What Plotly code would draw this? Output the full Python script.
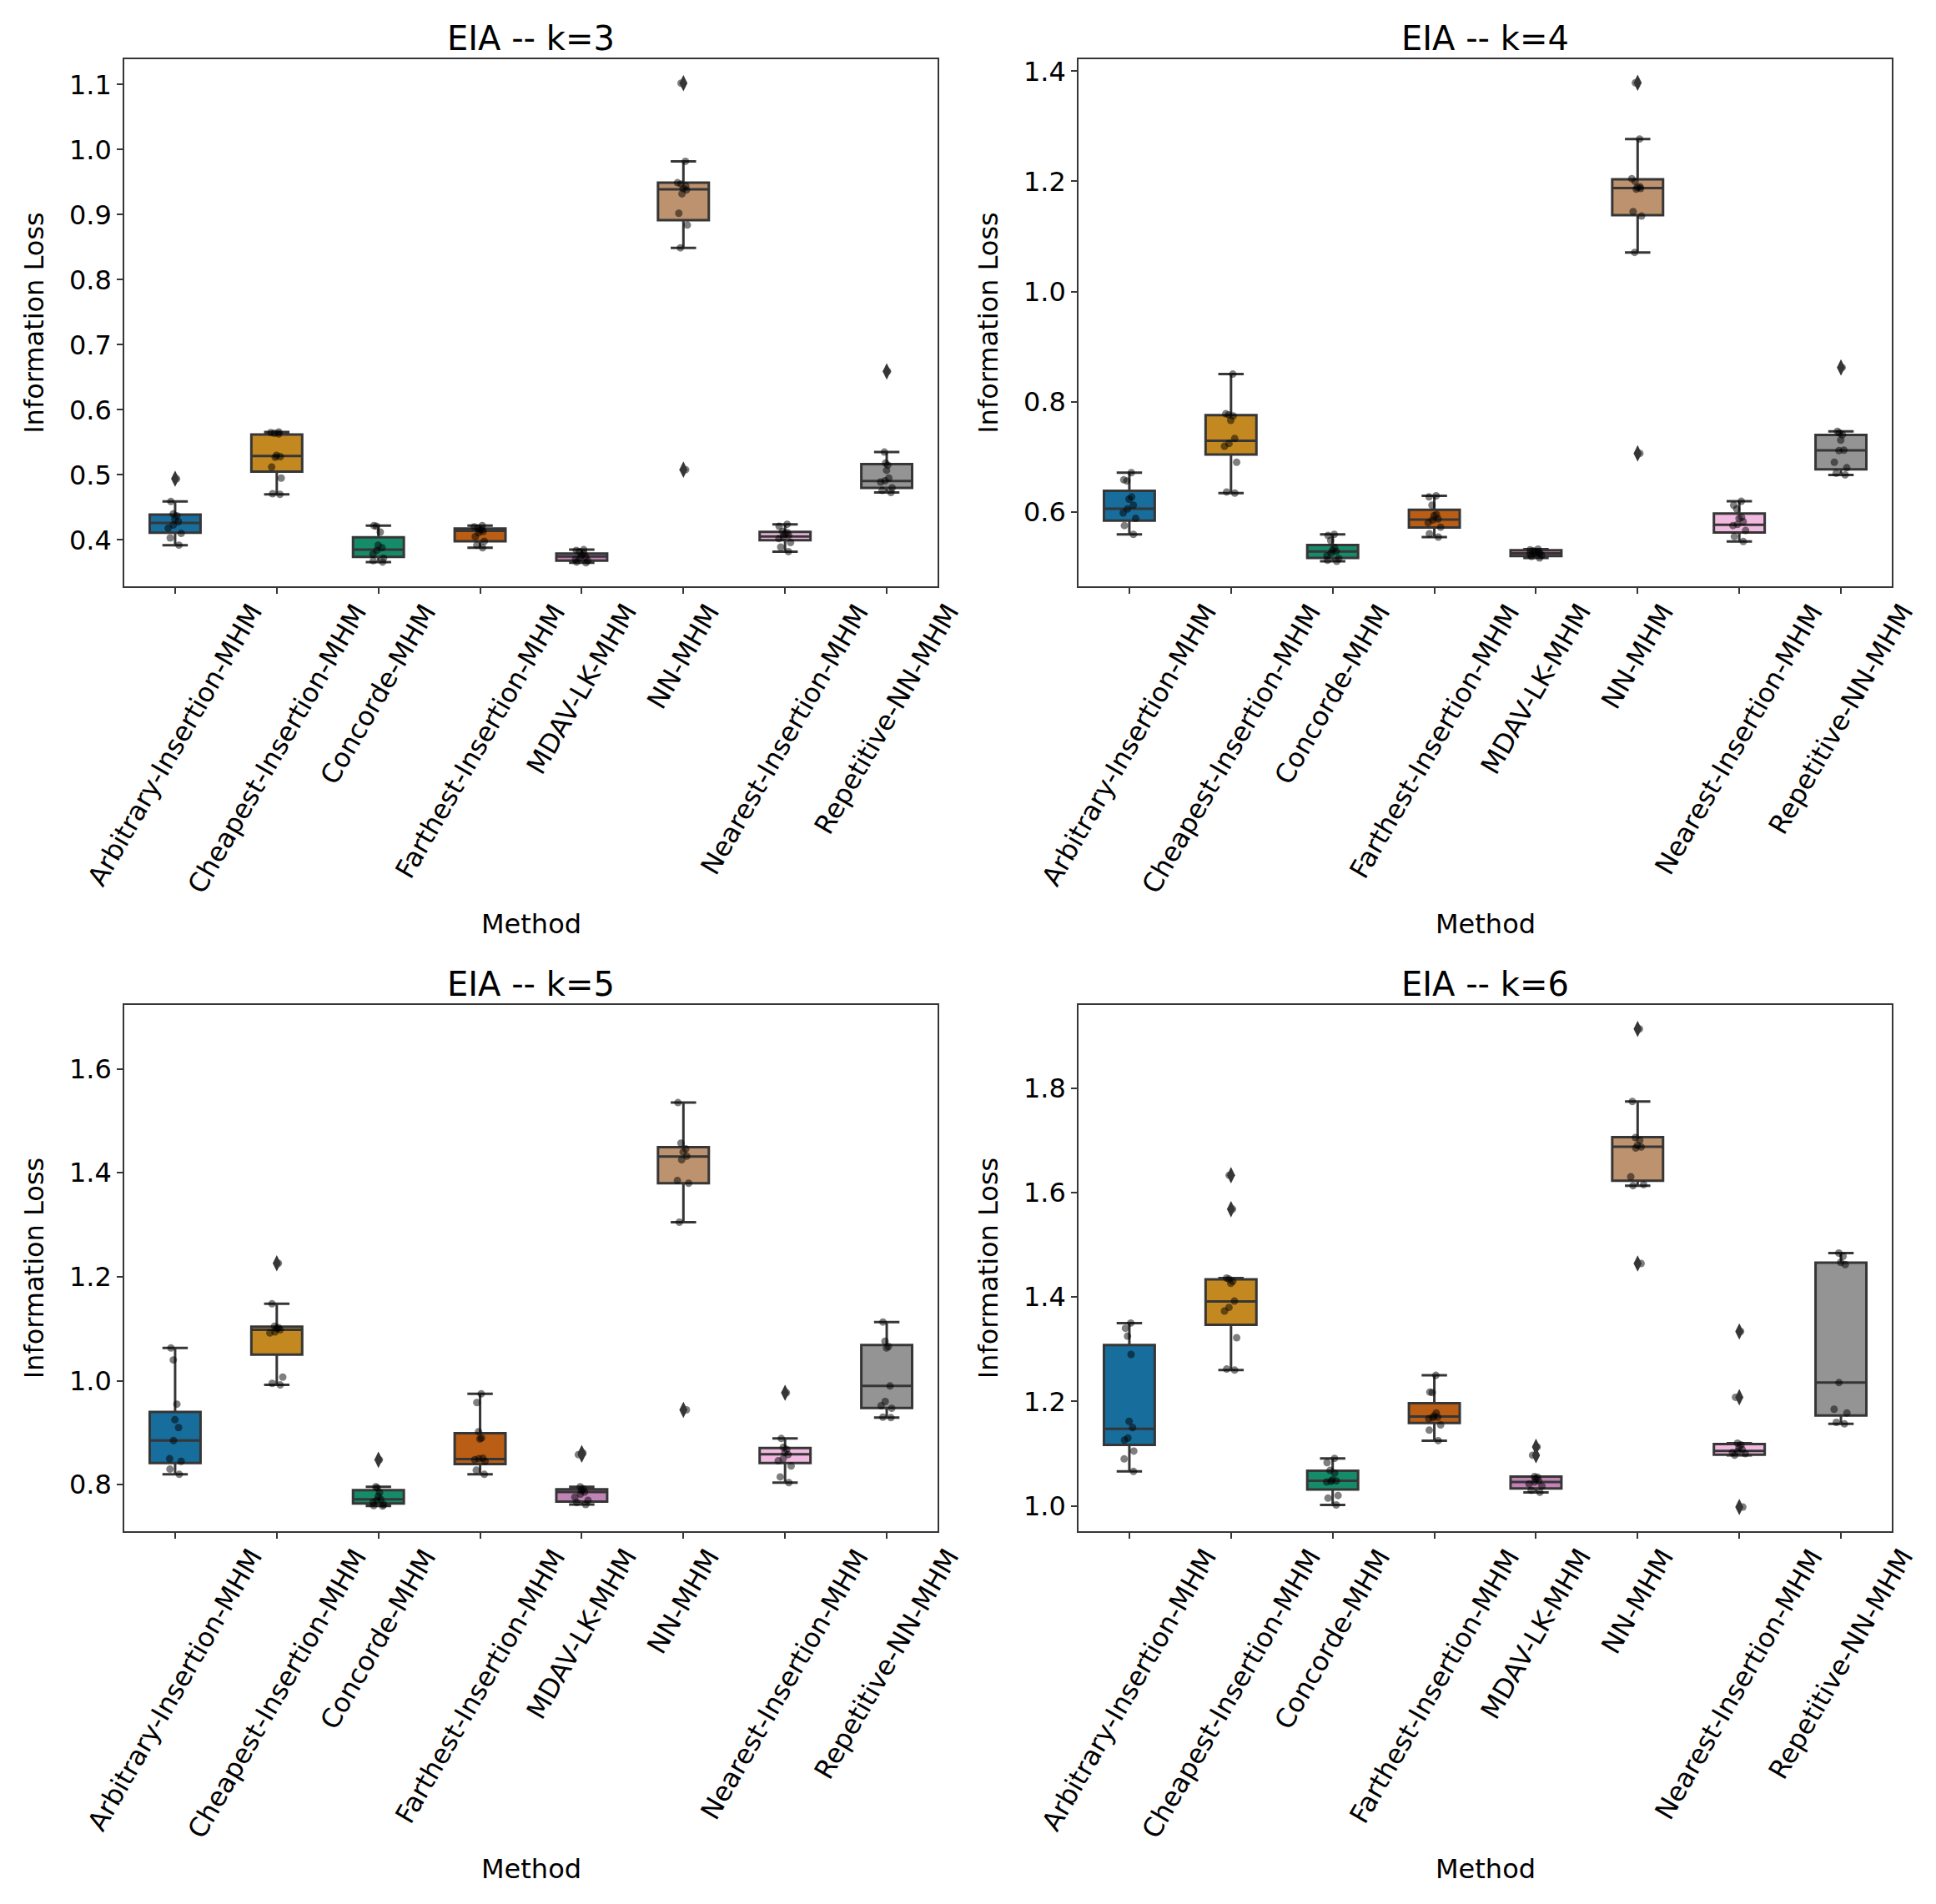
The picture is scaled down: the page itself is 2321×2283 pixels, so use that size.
import plotly.graph_objects as go

METHODS = ["Arbitrary-Insertion-MHM", "Cheapest-Insertion-MHM", "Concorde-MHM",
           "Farthest-Insertion-MHM", "MDAV-LK-MHM", "NN-MHM",
           "Nearest-Insertion-MHM", "Repetitive-NN-MHM"]
COLORS = ["#176d9c", "#c38820", "#168b6a", "#ba5e15",
          "#c182b5", "#bd926e", "#f1b8e0", "#949494"]

# k=3
K3_Q1 = [0.411, 0.505, 0.374, 0.398, 0.368, 0.8914, 0.3994, 0.480]
K3_MED = [0.426, 0.529, 0.385, 0.414, 0.3747, 0.939, 0.4053, 0.4905]
K3_Q3 = [0.439, 0.562, 0.404, 0.4175, 0.379, 0.949, 0.4123, 0.5164]
K3_POINTS = [
    [0.494, 0.459, 0.440, 0.437, 0.432, 0.428, 0.423, 0.418, 0.410, 0.403, 0.392],
    [0.566, 0.565, 0.564, 0.563, 0.530, 0.528, 0.527, 0.512, 0.495, 0.471, 0.470],
    [0.422, 0.421, 0.412, 0.392, 0.388, 0.384, 0.378, 0.372, 0.368, 0.366],
    [0.422, 0.420, 0.418, 0.416, 0.415, 0.413, 0.411, 0.405, 0.398, 0.392, 0.388],
    [0.385, 0.384, 0.382, 0.379, 0.376, 0.374, 0.372, 0.370, 0.368, 0.366, 0.365],
    [1.102, 0.982, 0.949, 0.947, 0.944, 0.940, 0.938, 0.932, 0.902, 0.884, 0.849, 0.508],
    [0.424, 0.421, 0.413, 0.411, 0.409, 0.407, 0.405, 0.402, 0.396, 0.389, 0.382],
    [0.659, 0.535, 0.518, 0.515, 0.507, 0.495, 0.491, 0.489, 0.480, 0.476, 0.473],
]

# k=4
K4_Q1 = [0.584, 0.704, 0.516, 0.5716, 0.5195, 1.1385, 0.5625, 0.677]
K4_MED = [0.6056, 0.729, 0.5278, 0.586, 0.5244, 1.1878, 0.5764, 0.7117]
K4_Q3 = [0.638, 0.7756, 0.5396, 0.6035, 0.530, 1.2037, 0.597, 0.7395]
K4_POINTS = [
    [0.671, 0.658, 0.656, 0.627, 0.623, 0.612, 0.605, 0.598, 0.588, 0.575, 0.559],
    [0.850, 0.778, 0.776, 0.774, 0.766, 0.733, 0.724, 0.719, 0.690, 0.636, 0.634],
    [0.559, 0.557, 0.548, 0.535, 0.530, 0.528, 0.525, 0.520, 0.515, 0.512, 0.510],
    [0.629, 0.627, 0.612, 0.595, 0.593, 0.587, 0.585, 0.580, 0.572, 0.560, 0.554],
    [0.532, 0.531, 0.529, 0.527, 0.526, 0.525, 0.524, 0.523, 0.521, 0.519, 0.516],
    [1.379, 1.277, 1.205, 1.200, 1.190, 1.189, 1.187, 1.186, 1.145, 1.137, 1.071, 0.706],
    [0.619, 0.612, 0.605, 0.590, 0.588, 0.582, 0.577, 0.575, 0.566, 0.555, 0.546],
    [0.862, 0.746, 0.743, 0.740, 0.730, 0.712, 0.711, 0.690, 0.680, 0.670, 0.667],
]

# k=5
K5_Q1 = [0.8418, 1.0503, 0.764, 0.8396, 0.7677, 1.3798, 0.8418, 0.9475]
K5_MED = [0.8851, 1.098, 0.7721, 0.8492, 0.786, 1.4312, 0.8587, 0.990]
K5_Q3 = [0.9402, 1.1039, 0.7897, 0.8991, 0.7912, 1.4495, 0.8705, 1.0686]
K5_POINTS = [
    [1.063, 1.040, 0.955, 0.925, 0.910, 0.885, 0.850, 0.845, 0.830, 0.820],
    [1.226, 1.148, 1.105, 1.102, 1.100, 1.098, 1.094, 1.092, 1.007, 0.995, 0.992],
    [0.848, 0.796, 0.794, 0.785, 0.778, 0.772, 0.770, 0.766, 0.762, 0.760, 0.759],
    [0.975, 0.958, 0.902, 0.890, 0.888, 0.851, 0.850, 0.848, 0.845, 0.828, 0.820],
    [0.861, 0.858, 0.796, 0.792, 0.789, 0.786, 0.782, 0.776, 0.770, 0.766, 0.762],
    [1.776, 1.535, 1.457, 1.446, 1.440, 1.432, 1.425, 1.385, 1.380, 1.305, 0.944],
    [0.977, 0.889, 0.872, 0.868, 0.862, 0.858, 0.850, 0.846, 0.836, 0.815, 0.804],
    [1.113, 1.076, 1.066, 1.063, 0.990, 0.960, 0.952, 0.947, 0.930, 0.929],
]

# k=6
K6_Q1 = [1.117, 1.3466, 1.0314, 1.1587, 1.0336, 1.6223, 1.098, 1.1733]
K6_MED = [1.1477, 1.3912, 1.0483, 1.1711, 1.046, 1.6874, 1.1053, 1.2362]
K6_Q3 = [1.3079, 1.4336, 1.0673, 1.1967, 1.0563, 1.7057, 1.1185, 1.4658]
K6_POINTS = [
    [1.350, 1.340, 1.325, 1.290, 1.162, 1.150, 1.130, 1.126, 1.105, 1.090, 1.066],
    [1.633, 1.568, 1.436, 1.434, 1.430, 1.426, 1.392, 1.380, 1.373, 1.322, 1.262, 1.260],
    [1.091, 1.083, 1.068, 1.063, 1.050, 1.048, 1.047, 1.046, 1.020, 1.015, 1.002],
    [1.250, 1.218, 1.217, 1.178, 1.172, 1.170, 1.169, 1.167, 1.155, 1.145, 1.125],
    [1.113, 1.097, 1.056, 1.055, 1.052, 1.048, 1.046, 1.042, 1.038, 1.030, 1.026],
    [1.913, 1.774, 1.705, 1.700, 1.690, 1.687, 1.685, 1.630, 1.615, 1.613, 1.464],
    [1.334, 1.208, 1.120, 1.117, 1.112, 1.108, 1.105, 1.102, 1.100, 1.097, 0.998],
    [1.484, 1.478, 1.466, 1.462, 1.236, 1.185, 1.178, 1.160, 1.157],
]

PANELS = [
    ("EIA -- k=3", K3_Q1, K3_MED, K3_Q3, K3_POINTS),
    ("EIA -- k=4", K4_Q1, K4_MED, K4_Q3, K4_POINTS),
    ("EIA -- k=5", K5_Q1, K5_MED, K5_Q3, K5_POINTS),
    ("EIA -- k=6", K6_Q1, K6_MED, K6_Q3, K6_POINTS),
]

# page is 2321x2283, body has an 8px margin, so the figure is a bit smaller
PAGE_W, PAGE_H = 2321, 2283
PAD = 8
W, H = PAGE_W - 2 * PAD, PAGE_H - 2 * PAD
LINE = "#363636"
FONT = "DejaVu Sans"

# plot areas in page pixels (left, top, right, bottom)
AREAS = [(149, 67, 1124, 700), (1293, 67, 2268, 700),
         (149, 1203, 1124, 1835), (1293, 1203, 2268, 1835)]
YRANGES = [(0.329, 1.139), (0.465, 1.422), (0.711, 1.723), (0.952, 1.959)]
DTICKS = [0.1, 0.2, 0.2, 0.2]

fig = go.Figure()
annotations = []

for i, (title, q1s, meds, q3s, pts_all) in enumerate(PANELS):
    n = "" if i == 0 else str(i + 1)
    xa, ya = "x" + n, "y" + n
    for j, m in enumerate(METHODS):
        pts = pts_all[j]
        iqr = q3s[j] - q1s[j]
        lim_lo = q1s[j] - 1.5 * iqr
        lim_hi = q3s[j] + 1.5 * iqr
        inside = [p for p in pts if lim_lo <= p <= lim_hi]
        fliers = [p for p in pts if p < lim_lo or p > lim_hi]
        fig.add_trace(go.Box(
            x=[m], q1=[q1s[j]], median=[meds[j]], q3=[q3s[j]],
            lowerfence=[min(inside)], upperfence=[max(inside)],
            fillcolor=COLORS[j], line=dict(color=LINE, width=3),
            width=0.5, whiskerwidth=0.5, boxpoints=False,
            showlegend=False, xaxis=xa, yaxis=ya,
        ))
        # strip of all runs
        fig.add_trace(go.Box(
            x=[m] * len(pts), y=pts, boxpoints="all", jitter=0.32, pointpos=0,
            fillcolor="rgba(0,0,0,0)", line=dict(color="rgba(0,0,0,0)", width=0),
            marker=dict(color="rgba(0,0,0,0.5)", size=9), width=0.5,
            showlegend=False, hoveron="points", xaxis=xa, yaxis=ya,
        ))
        if fliers:
            fig.add_trace(go.Scatter(
                x=[m] * len(fliers), y=fliers, mode="markers",
                marker=dict(symbol="diamond-tall", size=14, color=LINE),
                showlegend=False, xaxis=xa, yaxis=ya,
            ))

    l, t, r, b = [v - PAD for v in AREAS[i]]
    axis_common = dict(showline=True, mirror=True, linecolor=LINE, linewidth=1.5,
                       ticks="outside", ticklen=7, tickwidth=1.5, tickcolor=LINE,
                       showgrid=False, zeroline=False)
    fig.layout["xaxis" + n] = dict(
        domain=[l / W, r / W], anchor=ya, type="category",
        categoryorder="array", categoryarray=METHODS, range=[-0.5, 7.5],
        showticklabels=False, **axis_common)
    fig.layout["yaxis" + n] = dict(
        domain=[1 - b / H, 1 - t / H], anchor=xa, range=list(YRANGES[i]),
        dtick=DTICKS[i], tick0=0, tickformat=".1f",
        tickfont=dict(family=FONT, size=32, color="black"), **axis_common)

    dx, dy = xa + " domain", ya + " domain"
    annotations.append(dict(text=title, x=0.5, y=1, xref=dx, yref=dy, yshift=25,
                            xanchor="center", yanchor="middle", showarrow=False,
                            font=dict(family=FONT, size=40, color="black")))
    annotations.append(dict(text="Information Loss", x=0, y=0.5, xref=dx, yref=dy,
                            xshift=-108, textangle=-90, xanchor="center",
                            yanchor="middle", showarrow=False,
                            font=dict(family=FONT, size=32, color="black")))
    annotations.append(dict(text="Method", x=0.5, y=0, xref=dx, yref=dy,
                            yshift=-405, xanchor="center", yanchor="middle",
                            showarrow=False,
                            font=dict(family=FONT, size=32, color="black")))
    for m in METHODS:
        annotations.append(dict(text=m, x=m, y=0, xref=xa, yref=dy, yshift=-12,
                                textangle=-60, xanchor="center", yanchor="top",
                                showarrow=False,
                                font=dict(family=FONT, size=32, color="black")))

fig.update_layout(
    width=W, height=H, margin=dict(l=0, r=0, t=0, b=0),
    paper_bgcolor="white", plot_bgcolor="white", boxmode="overlay",
    annotations=annotations, font=dict(family=FONT, color="black"),
)

fig.write_html("out.html")
